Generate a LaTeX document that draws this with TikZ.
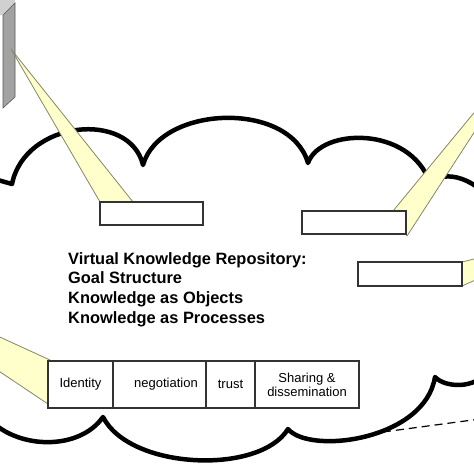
\documentclass[tikz,border=0pt]{standalone}
\usepackage{fontspec}
\setmainfont{Liberation Sans}
\definecolor{beamfill}{HTML}{FFFFCC}
\definecolor{beamline}{HTML}{85856A}
\definecolor{boxline}{HTML}{333333}
\definecolor{sidegray}{HTML}{A2A2A2}
\definecolor{topgray}{HTML}{D0D0D0}
\begin{document}
\begin{tikzpicture}[x=1pt,y=-1pt,
  beam/.style={fill=beamfill, draw=beamline, line width=0.8pt, line join=round},
  boxn/.style={draw=boxline, fill=white, line width=1.4pt, inner sep=0pt, outer sep=0pt, anchor=north west},
  cell/.style={boxn, minimum height=47pt, font=\fontsize{13}{14}\selectfont, align=center},
  cloudline/.style={line width=4.5pt, line join=round, line cap=round},
  maintext/.style={anchor=north west, inner sep=0pt, align=left, font=\bfseries\fontsize{16.4}{19.7}\selectfont}
]
\useasboundingbox (0,0) rectangle (474,474);
\clip (0,0) rectangle (474,474);
% cloud outline
\draw[cloudline] (-40,160) .. controls (-20,175) .. (12,184)
  .. controls (25,120) and (130,110) .. (143,165)
  .. controls (160,105) and (290,100) .. (308,163)
  .. controls (320,128) and (410,125) .. (430,183)
  .. controls (440,172) and (470,172) .. (495,205)
  -- (495,360)
  .. controls (482,392) and (445,388) .. (435,377)
  .. controls (425,440) and (310,455) .. (288,429)
  .. controls (260,475) and (130,470) .. (103,417)
  .. controls (80,450) and (20,450) .. (-10,420) -- (-40,420);
% grey block (top left)
\fill[topgray] (-30,15) -- (3,15) -- (15,3) -- (15,-10) -- (-30,-10) -- cycle;
\draw[fill=sidegray, draw=gray!70!black, line width=0.6pt] (3,15) -- (15,3) -- (15,97) -- (3,108) -- cycle;
% beams
\draw[beam] (11,49) -- (100,202) -- (133,202) -- cycle;
\draw[beam] (534,40) -- (393,211) -- (407,236) -- cycle;
\draw[beam] (582,232) -- (462,262) -- (462,286) -- cycle;
\draw[beam] (-164,262) -- (50,360) -- (48,404) -- cycle;
% boxes
\node[boxn, minimum width=103pt, minimum height=23pt] (box1) at (100,202) {};
\node[boxn, minimum width=104pt, minimum height=23pt] (box2) at (302,211) {};
\node[boxn, minimum width=104pt, minimum height=24pt] (box3) at (358,262) {};
% strip
\node[cell, minimum width=65pt] (c1) at (48,361) {Identity};
\node[cell, minimum width=93pt] (c2) at (c1.north east) {\hspace*{13pt}negotiation};
\node[cell, minimum width=49pt] (c3) at (c2.north east) {trust};
\node[cell, minimum width=104pt] (c4) at (c3.north east) {Sharing \&\\dissemination};
% main text
\node[maintext] (vkr) at (68,252) {Virtual Knowledge Repository:\\Goal Structure\\Knowledge as Objects\\Knowledge as Processes};
% dashed line
\coordinate (d1) at (383,432);
\coordinate (d2) at (480,419);
\draw[dashed, dash pattern=on 8pt off 5pt, line width=1.2pt] (d1) -- (d2);
\end{tikzpicture}
\end{document}
